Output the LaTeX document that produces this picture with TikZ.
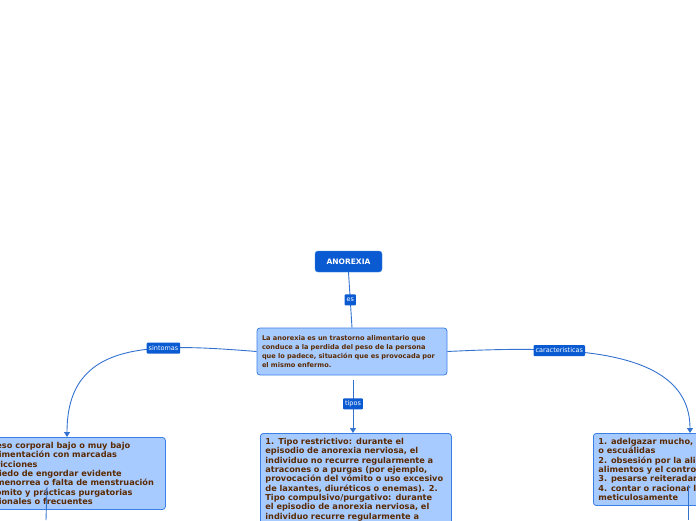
\documentclass[tikz,border=0pt]{standalone}
\usepackage{fontspec}
\setmainfont{DejaVu Sans}
\usetikzlibrary{arrows.meta}
\definecolor{topicfill}{HTML}{A8CBFF}
\definecolor{topicline}{HTML}{3A7FE6}
\definecolor{topictext}{HTML}{5A2A00}
\definecolor{rootfill}{HTML}{0A5BD2}
\newcommand\nohyph{\hyphenpenalty=10000\relax}
\tikzset{
  topic/.style={draw=topicline, fill=topicfill, rounded corners=3pt, line width=0.8pt,
    text=topictext, font=\fontsize{8.2}{9.3}\selectfont\bfseries\nohyph,
    align=left, inner sep=5pt},
  rootbox/.style={fill=rootfill, draw=topicline, rounded corners=3pt, text=white,
    font=\fontsize{7.5}{8}\selectfont\bfseries, minimum width=67pt, minimum height=21pt},
  tag/.style={fill=rootfill, rounded corners=1pt, text=white,
    font=\fontsize{6.5}{7}\selectfont, inner sep=2pt, minimum height=11pt},
  link/.style={draw=topicline!90!black, line width=0.9pt},
  arrow/.style={link, -{Triangle[width=6pt,length=5pt]}}
}
\begin{document}
\begin{tikzpicture}[x=1pt,y=-1pt]
  \useasboundingbox (0,0) rectangle (696,520);
  \clip (0,0) rectangle (696,520);
  % Root
  \node[rootbox] (root) at (348.5,261.5) {ANOREXIA};
  % Central topic
  \node[topic, font=\fontsize{6.6}{9}\selectfont\bfseries\nohyph, minimum width=190pt, minimum height=47pt, text width=180pt]
    (def) at (352,351.5) {La anorexia es un trastorno alimentario que conduce a la perdida del peso de la persona que lo padece, situación que es provocada por el mismo enfermo.};
  % Children
  \node[topic, anchor=north west, minimum height=50pt, minimum width=199pt] (sint) at (-34,437)
    {1. peso corporal bajo o muy bajo\\2. alimentación con marcadas\\restricciones\\3. miedo de engordar evidente\\4. amenorrea o falta de menstruación\\5. vómito y prácticas purgatorias\\ocasionales o frecuentes};
  \node[topic, anchor=north west, text width=181pt] (tipo) at (260,433)
    {1. Tipo restrictivo: durante el episodio de anorexia nerviosa, el individuo no recurre regularmente a atracones o a purgas (por ejemplo, provocación del vómito o uso excesivo de laxantes, diuréticos o enemas). 2. Tipo compulsivo/purgativo: durante el episodio de anorexia nerviosa, el individuo recurre regularmente a atracones o purgas.};
  \node[topic, anchor=north west, minimum height=52pt] (carac) at (593,433)
    {1. adelgazar mucho, verse delgadas\\o escuálidas\\2. obsesión por la alimentación, los\\alimentos y el control de calorías\\3. pesarse reiteradamente\\4. contar o racionar los alimentos\\meticulosamente};
  % Connectors
  \draw[link] (root.south) -- (def.north) node[tag, pos=0.5] {es};
  \draw[arrow] (def.west) .. controls (150,343) and (67,340) .. (67,437)
    node[tag, pos=0.32] {sintomas};
  \draw[arrow] (353,380) -- (353,433) node[tag, pos=0.45] {tipos};
  \draw[arrow] (def.east) .. controls (560,346) and (690,345) .. (690,433)
    node[tag, pos=0.33] {caracteristicas};
  \draw[link] (47,487) -- (46,520);
  \draw[link] (688,485) -- (688,520);
\end{tikzpicture}
\end{document}
